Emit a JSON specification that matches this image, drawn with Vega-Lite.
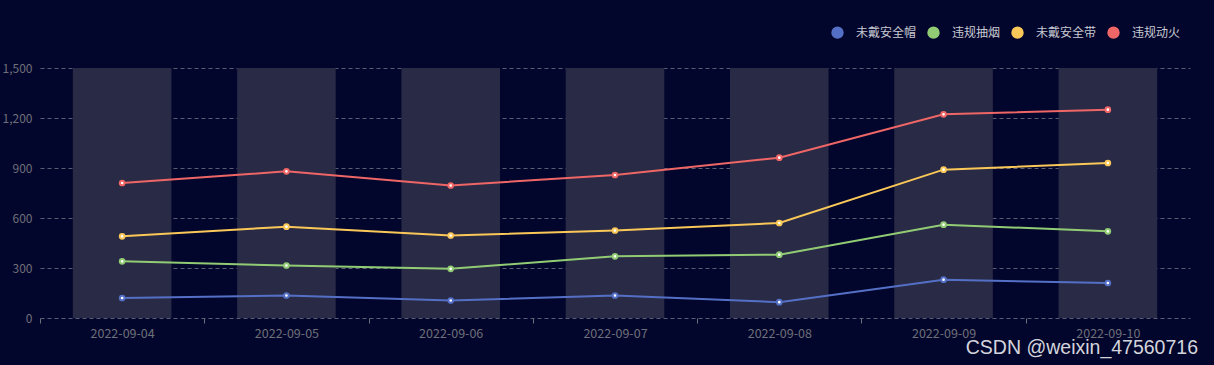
{
  "$schema": "https://vega.github.io/schema/vega-lite/v6.json",
  "autosize": "none",
  "width": 1150,
  "height": 250,
  "padding": {"left": 40, "top": 68, "right": 24, "bottom": 47},
  "background": "#03062c",
  "title": {
    "text": "CSDN @weixin_47560716",
    "orient": "bottom",
    "anchor": "end",
    "color": "#d4d5dc",
    "fontSize": 19.5,
    "font": "Liberation Sans",
    "fontWeight": "normal",
    "offset": -1,
    "dx": 8
  },
  "config": {
    "view": {"stroke": null},
    "font": "Noto Sans CJK SC"
  },
  "datasets": {
    "bands": [
      {"date": "2022-09-04", "value": 1500},
      {"date": "2022-09-05", "value": 1500},
      {"date": "2022-09-06", "value": 1500},
      {"date": "2022-09-07", "value": 1500},
      {"date": "2022-09-08", "value": 1500},
      {"date": "2022-09-09", "value": 1500},
      {"date": "2022-09-10", "value": 1500}
    ],
    "series": [
      {"date": "2022-09-04", "series": "未戴安全帽", "value": 120},
      {"date": "2022-09-05", "series": "未戴安全帽", "value": 135},
      {"date": "2022-09-06", "series": "未戴安全帽", "value": 105},
      {"date": "2022-09-07", "series": "未戴安全帽", "value": 135},
      {"date": "2022-09-08", "series": "未戴安全帽", "value": 95},
      {"date": "2022-09-09", "series": "未戴安全帽", "value": 230},
      {"date": "2022-09-10", "series": "未戴安全帽", "value": 210},
      {"date": "2022-09-04", "series": "违规抽烟", "value": 340},
      {"date": "2022-09-05", "series": "违规抽烟", "value": 315},
      {"date": "2022-09-06", "series": "违规抽烟", "value": 295},
      {"date": "2022-09-07", "series": "违规抽烟", "value": 370},
      {"date": "2022-09-08", "series": "违规抽烟", "value": 380},
      {"date": "2022-09-09", "series": "违规抽烟", "value": 560},
      {"date": "2022-09-10", "series": "违规抽烟", "value": 520},
      {"date": "2022-09-04", "series": "未戴安全带", "value": 490},
      {"date": "2022-09-05", "series": "未戴安全带", "value": 548},
      {"date": "2022-09-06", "series": "未戴安全带", "value": 495},
      {"date": "2022-09-07", "series": "未戴安全带", "value": 525},
      {"date": "2022-09-08", "series": "未戴安全带", "value": 570},
      {"date": "2022-09-09", "series": "未戴安全带", "value": 890},
      {"date": "2022-09-10", "series": "未戴安全带", "value": 930},
      {"date": "2022-09-04", "series": "违规动火", "value": 810},
      {"date": "2022-09-05", "series": "违规动火", "value": 880},
      {"date": "2022-09-06", "series": "违规动火", "value": 795},
      {"date": "2022-09-07", "series": "违规动火", "value": 858},
      {"date": "2022-09-08", "series": "违规动火", "value": 962},
      {"date": "2022-09-09", "series": "违规动火", "value": 1222},
      {"date": "2022-09-10", "series": "违规动火", "value": 1250}
    ]
  },
  "encoding": {
    "x": {
      "field": "date",
      "type": "nominal",
      "sort": null,
      "scale": {"paddingInner": 0.4, "paddingOuter": 0.2},
      "axis": {
        "title": null,
        "labelAngle": 0,
        "labelColor": "#6e7079",
        "labelFontSize": 12.5,
        "labelPadding": 4,
        "labelOffset": 82.14,
        "domain": false,
        "grid": false,
        "ticks": true,
        "tickColor": "#6e7079",
        "tickSize": 5,
        "tickOffset": -82.14
      }
    },
    "y": {
      "field": "value",
      "type": "quantitative",
      "scale": {"domain": [0, 1500], "nice": false},
      "axis": {
        "title": null,
        "values": [0, 300, 600, 900, 1200, 1500],
        "format": ",d",
        "labelColor": "#6e7079",
        "labelFontSize": 12,
        "labelPadding": 8,
        "domain": false,
        "ticks": false,
        "grid": true,
        "gridColor": "#5a5c72",
        "gridDash": [4, 3],
        "gridWidth": 1
      }
    }
  },
  "layer": [
    {
      "data": {"name": "bands"},
      "mark": {"type": "bar", "color": "#292a45"}
    },
    {
      "data": {"name": "series"},
      "mark": {"type": "line", "strokeWidth": 2},
      "encoding": {
        "color": {
          "field": "series",
          "type": "nominal",
          "scale": {
            "domain": ["未戴安全帽", "违规抽烟", "未戴安全带", "违规动火"],
            "range": ["#5470c6", "#91cc75", "#fac858", "#ee6666"]
          },
          "legend": {
            "title": null,
            "orient": "none",
            "legendX": 791,
            "legendY": -42,
            "direction": "horizontal",
            "symbolType": "circle",
            "symbolSize": 154,
            "symbolStrokeWidth": 0,
            "symbolOpacity": 1,
            "labelColor": "#c8c9d2",
            "labelFontSize": 12,
            "labelOffset": 12,
            "columnPadding": 10,
            "encode": {
              "symbols": {
                "update": {
                  "fill": {"scale": "color", "field": "value"},
                  "fillOpacity": {"value": 1},
                  "strokeWidth": {"value": 0}
                }
              }
            }
          }
        }
      }
    },
    {
      "data": {"name": "series"},
      "mark": {"type": "point", "filled": false, "fill": "#ffffff", "fillOpacity": 1, "strokeWidth": 2, "size": 22, "opacity": 1},
      "encoding": {
        "color": {"field": "series", "type": "nominal", "legend": null}
      }
    }
  ]
}
